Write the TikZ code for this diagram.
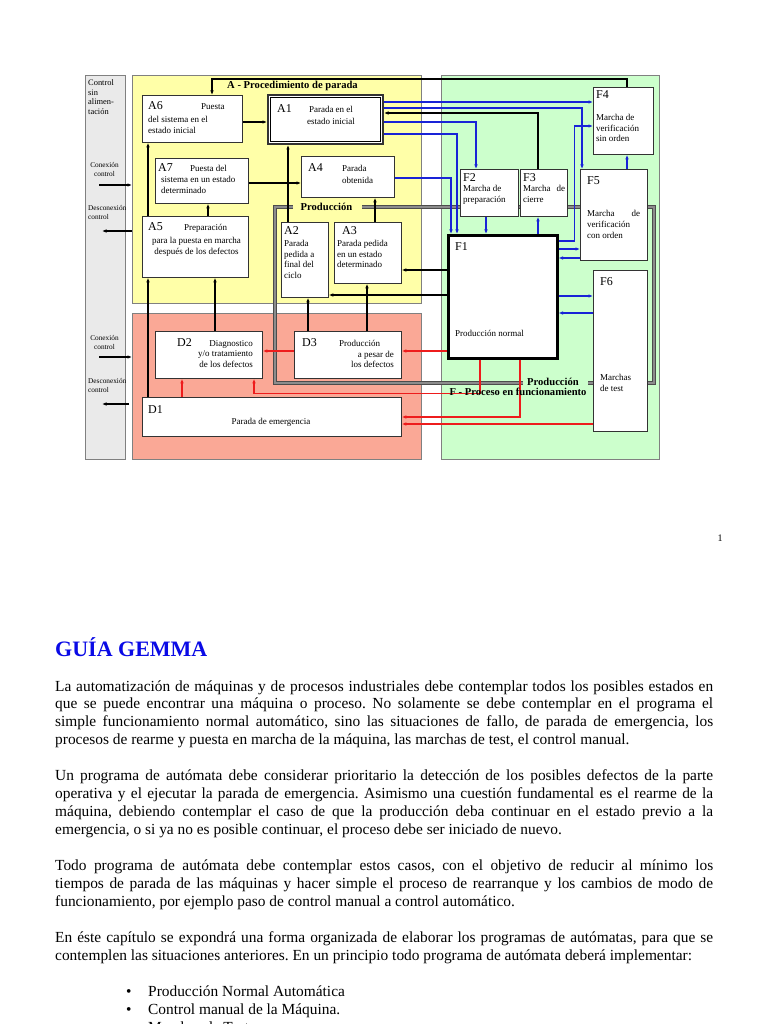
\documentclass[tikz,border=0pt]{standalone}
\usepackage{fontspec}
\setmainfont{Liberation Serif}
\usetikzlibrary{arrows.meta}
\definecolor{ybg}{RGB}{255,255,168}
\definecolor{rbg}{RGB}{250,168,150}
\definecolor{gbg}{RGB}{204,255,204}
\definecolor{pbg}{RGB}{234,234,234}
\definecolor{lblue}{RGB}{25,35,215}
\definecolor{lred}{RGB}{238,28,28}
\definecolor{tblue}{RGB}{10,10,230}
\frenchspacing
\newcommand{\pfont}{\fontsize{15.4}{17.95}\selectfont}
\newcommand{\mlines}[3]{{\fontsize{9}{#2}\selectfont\begin{tabular}[t]{@{}#1@{}}#3\end{tabular}}}
\begin{document}
\begin{tikzpicture}[x=1pt,y=-1pt,
 region/.style={draw=black!50, line width=0.7, inner sep=0, outer sep=0, anchor=north west},
 stbox/.style={draw=black!80, fill=white, line width=0.8, inner sep=0, outer sep=0.4, anchor=north west},
 lbl/.style={inner sep=0, anchor=base west, font=\fontsize{12}{14}\selectfont},
 txt/.style={inner sep=0, anchor=base west, font=\fontsize{9}{10.8}\selectfont},
 ptxt/.style={inner sep=0, anchor=base west, font=\fontsize{7.3}{9}\selectfont},
 ttl/.style={inner sep=0, font=\fontsize{10.6}{12}\selectfont\bfseries},
 blk/.style={draw=black, line width=1.1, -{Latex[length=4.5pt,width=3.6pt]}},
 blu/.style={draw=lblue, line width=1.3, -{Latex[length=4.5pt,width=3.6pt]}},
 rd/.style={draw=lred, line width=1.2, -{Latex[length=4.5pt,width=3.6pt]}},
 prod/.style={draw=black!70, double=black!45, double distance=1.6pt, line width=0.9},
 para/.style={inner sep=0, anchor=base west},
]
\useasboundingbox (0,0) rectangle (768,1024);
\fill[white] (0,0) rectangle (768,1024);

% regions
\node[region, fill=pbg, minimum width=40, minimum height=384] (P) at (85,75) {};
\node[region, fill=ybg, minimum width=289, minimum height=228] (RA) at (132,75) {};
\node[region, fill=rbg, minimum width=289, minimum height=146] (RD) at (132,313) {};
\node[region, fill=gbg, minimum width=218, minimum height=384] (RF) at (441,75) {};

% production loop
\draw[prod] (293,207) -- (275,207) -- (275,383) -- (523,383);
\draw[prod] (362,207) -- (654,207) -- (654,383) -- (588,383);

% boxes
\node[stbox, minimum width=100, minimum height=47] (A6) at (142,95) {};
\node[stbox, line width=2, outer sep=1, minimum width=115, minimum height=49] (A1) at (267,94) {};
\draw[black, line width=1.2] ([xshift=3.8pt,yshift=-3.8pt]A1.north west) rectangle ([xshift=-3.8pt,yshift=3.8pt]A1.south east);
\node[stbox, minimum width=93, minimum height=41] (A4) at (301,156) {};
\node[stbox, minimum width=93, minimum height=45] (A7) at (155,158) {};
\node[stbox, minimum width=106, minimum height=61] (A5) at (142,216) {};
\node[stbox, minimum width=47, minimum height=75] (A2) at (281,222) {};
\node[stbox, minimum width=67, minimum height=61] (A3) at (334,222) {};
\node[stbox, minimum width=107, minimum height=47] (D2) at (155,331) {};
\node[stbox, minimum width=107, minimum height=47] (D3) at (294,331) {};
\node[stbox, minimum width=259, minimum height=39] (D1) at (142,397) {};
\node[stbox, minimum width=60, minimum height=67] (F4) at (593,87) {};
\node[stbox, minimum width=58, minimum height=47] (F2) at (460,169) {};
\node[stbox, minimum width=47, minimum height=47] (F3) at (520,169) {};
\node[stbox, minimum width=67, minimum height=91] (F5) at (580,169) {};
\node[stbox, draw=black, line width=2.5, outer sep=1.25, minimum width=109, minimum height=123] (F1) at (447,234) {};
\node[stbox, minimum width=54, minimum height=161] (F6) at (593,270) {};

% black connectors
\draw[blk] (F4.north -| 627,0) -- ++(0,-8) -| (A6.north -| 212,0);
\draw[blk] (A6.east |- 0,122) -- (A1.west |- 0,122);
\draw[blk] (148,0 |- A5.north) -- (148,0 |- A6.south);
\draw[blk] (208,0 |- A5.north) -- (208,0 |- A7.south);
\draw[blk] (A7.east |- 0,183) -- (A4.west |- 0,183);
\draw[blk] (288,0 |- A2.north) -- (288,0 |- A1.south);
\draw[blk] (375,0 |- A3.north) -- (375,0 |- A4.south);
\draw[blk] (148,0 |- D1.north) -- (148,0 |- A5.south);
\draw[blk] (215,0 |- D2.north) -- (215,0 |- A5.south);
\draw[blk] (308,0 |- D3.north) -- (308,0 |- A2.south);
\draw[blk] (367,0 |- D3.north) -- (367,0 |- A3.south);
\draw[blk] (F1.west |- 0,270) -- (A3.east |- 0,270);
\draw[blk] (F1.west |- 0,295) -- (A2.east |- 0,295);
\draw[blk] (538,0 |- F3.north) |- (A1.east |- 0,113);

% blue connectors
\draw[blu] (A1.east |- 0,102) -- (F4.west |- 0,102);
\draw[blu] (A1.east |- 0,108) -| (582,0 |- F5.north);
\draw[blu] (A1.east |- 0,122) -| (476,0 |- F2.north);
\draw[blu] (A1.east |- 0,134) -| (457,0 |- F1.north);
\draw[blu] (A4.east |- 0,178) -| (451,0 |- F1.north);
\draw[blu] (486,0 |- F2.south) -- (486,0 |- F1.north);
\draw[blu] (538,0 |- F1.north) -- (538,0 |- F3.south);
\draw[blu] (F1.east |- 0,241) -- ++(16,0) |- (F4.west |- 0,126);
\draw[blu] (F1.east |- 0,249) -- (F5.west |- 0,249);
\draw[blu] (F5.west |- 0,258) -- (F1.east |- 0,258);
\draw[blu] (627,0 |- F5.north) -- (627,0 |- F4.south);
\draw[blu] (F1.east |- 0,296) -- (F6.west |- 0,296);
\draw[blu] (F6.west |- 0,313) -- (F1.east |- 0,313);

% red connectors
\draw[rd] (D3.west |- 0,351) -- (D2.east |- 0,351);
\draw[rd] (F1.west |- 0,351) -- (D3.east |- 0,351);
\draw[rd] (182,0 |- D1.north) -- (182,0 |- D2.south);
\draw[rd] (480,0 |- F1.south) -- ++(0,34) -| (254,0 |- D2.south);
\draw[rd] (520,0 |- F1.south) |- (D1.east |- 0,417);
\draw[rd] (F6.west |- 0,424) -- (D1.east |- 0,424);

% control panel arrows
\coordinate (c1) at (99,185);
\coordinate (c2) at (102,231);
\coordinate (c3) at (99,357);
\coordinate (c4) at (102,404);
\draw[blk] (c1) -- (RA.west |- c1);
\draw[blk] (RA.west |- c2) -- (c2);
\draw[blk] (c3) -- (RD.west |- c3);
\draw[blk] ([xshift=-3pt]RD.west |- c4) -- (c4);

% panel texts
\node[inner sep=0, anchor=base west, font=\fontsize{8.4}{9.5}\selectfont] (Pt) at (88,86) {\begin{tabular}[t]{@{}l@{}}Control\\sin\\alimen-\\tación\end{tabular}};
\node[ptxt, anchor=base] (Pc1) at (104.5,168) {\begin{tabular}[t]{@{}c@{}}Conexión\\control\end{tabular}};
\node[ptxt] (Pd1) at (88,211) {\begin{tabular}[t]{@{}l@{}}Desconexión\\control\end{tabular}};
\node[ptxt, anchor=base] (Pc2) at (104.5,340) {\begin{tabular}[t]{@{}c@{}}Conexión\\control\end{tabular}};
\node[ptxt] (Pd2) at (88,383) {\begin{tabular}[t]{@{}l@{}}Desconexión\\control\end{tabular}};

% titles
\node[ttl] (TA) at (292.5,86) {A - Procedimiento de parada};
\node[ttl] (TP1) at (326.5,207) {Producción};
\node[ttl] (TP2) at (553,382) {Producción};
\node[ttl] (TF) at (518,392) {F - Proceso en funcionamiento};

% box texts
\node[lbl] (A6l) at (148,110) {A6};
\node[txt] (A6a) at (201,110) {Puesta};
\node[txt] (A6b) at (148,123) {\mlines{l}{11}{del sistema en el\\estado inicial}};
\node[lbl] (A1l) at (277,113) {A1};
\node[txt, anchor=base] (A1t) at (331,113) {\mlines{c}{12}{Parada en el\\estado inicial}};
\node[lbl] (A4l) at (308,172) {A4};
\node[txt] (A4t) at (342,172) {\mlines{l}{11.5}{Parada\\obtenida}};
\node[lbl] (A7l) at (158,172) {A7};
\node[txt] (A7a) at (190,172) {Puesta del};
\node[txt] (A7b) at (161,183) {\mlines{l}{10.6}{sistema en un estado\\determinado}};
\node[lbl] (A5l) at (148,231) {A5};
\node[txt] (A5a) at (184,231) {Preparación};
\node[txt, anchor=base] (A5b) at (196.5,243.5) {\mlines{c}{10.6}{para la puesta en marcha\\después de los defectos}};
\node[lbl] (A2l) at (284,235) {A2};
\node[txt] (A2t) at (284,246.5) {\mlines{l}{10.6}{Parada\\pedida a\\final del\\ciclo}};
\node[lbl] (A3l) at (342,235) {A3};
\node[txt] (A3t) at (337,246.5) {\mlines{l}{10.6}{Parada pedida\\en un estado\\determinado}};
\node[lbl] (D2l) at (177,346) {D2};
\node[txt, anchor=base east] (D2t) at (253,346.5) {\mlines{r}{10.4}{Diagnostico\\y/o tratamiento\\de los defectos}};
\node[lbl] (D3l) at (302,346) {D3};
\node[txt] (D3a) at (339,346.5) {Producción};
\node[txt, anchor=base east] (D3b) at (394,357) {\mlines{r}{10.5}{a pesar de\\los defectos}};
\node[lbl] (D1l) at (148,413) {D1};
\node[txt, anchor=base] (D1t) at (271,424) {Parada de emergencia};
\node[lbl] (F4l) at (596,99) {F4};
\node[txt] (F4t) at (596,121) {\mlines{l}{10.5}{Marcha de\\verificación\\sin orden}};
\node[lbl] (F2l) at (463,182) {F2};
\node[txt] (F2t) at (463,192) {\mlines{l}{10.2}{Marcha de\\preparación}};
\node[lbl] (F3l) at (523,182) {F3};
\node[txt] (F3t) at (523,192) {\mlines{l}{10.2}{\makebox[42pt][s]{Marcha de}\\cierre}};
\node[lbl] (F5l) at (587,185) {F5};
\node[txt] (F5t) at (587,217) {\mlines{l}{10.5}{\makebox[53pt][s]{Marcha de}\\verificación\\con orden}};
\node[lbl] (F1l) at (455,250) {F1};
\node[txt] (F1t) at (455,336) {Producción normal};
\node[lbl] (F6l) at (600,285) {F6};
\node[txt] (F6t) at (600,380) {\mlines{l}{11}{Marchas\\de test}};

% page number
\node[inner sep=0, anchor=base, font=\fontsize{10}{12}\selectfont] (pg) at (720,541) {1};

% document text
\node[inner sep=0, anchor=base west, text=tblue, font=\fontsize{22}{26}\selectfont\bfseries] (title) at (55,656) {GUÍA GEMMA};

\node[para] (p1) at (55,691) {\parbox[t]{658pt}{\pfont
\makebox[658pt][s]{La automatización de máquinas y de procesos industriales debe contemplar todos los posibles estados en}\\
\makebox[658pt][s]{que se puede encontrar una máquina o proceso. No solamente se debe contemplar en el programa el}\\
\makebox[658pt][s]{simple funcionamiento normal automático, sino las situaciones de fallo, de parada de emergencia, los}\\
procesos de rearme y puesta en marcha de la máquina, las marchas de test, el control manual.}};

\node[para] (p2) at (55,780.75) {\parbox[t]{658pt}{\pfont
\makebox[658pt][s]{Un programa de autómata debe considerar prioritario la detección de los posibles defectos de la parte}\\
\makebox[658pt][s]{operativa y el ejecutar la parada de emergencia. Asimismo una cuestión fundamental es el rearme de la}\\
\makebox[658pt][s]{máquina, debiendo contemplar el caso de que la producción deba continuar en el estado previo a la}\\
emergencia, o si ya no es posible continuar, el proceso debe ser iniciado de nuevo.}};

\node[para] (p3) at (55,870.5) {\parbox[t]{658pt}{\pfont
\makebox[658pt][s]{Todo programa de autómata debe contemplar estos casos, con el objetivo de reducir al mínimo los}\\
\makebox[658pt][s]{tiempos de parada de las máquinas y hacer simple el proceso de rearranque y los cambios de modo de}\\
funcionamiento, por ejemplo paso de control manual a control automático.}};

\node[para] (p4) at (55,942.3) {\parbox[t]{658pt}{\pfont
\makebox[658pt][s]{En éste capítulo se expondrá una forma organizada de elaborar los programas de autómatas, para que se}\\
contemplen las situaciones anteriores. En un principio todo programa de autómata deberá implementar:}};

\node[para] (b1) at (126,996.2) {\pfont •};
\node[para] (b1t) at (148,996.2) {\pfont Producción Normal Automática};
\node[para] (b2) at (126,1014.1) {\pfont •};
\node[para] (b2t) at (148,1014.1) {\pfont Control manual de la Máquina.};
\node[para] (b3) at (126,1032.1) {\pfont •};
\node[para] (b3t) at (148,1032.1) {\pfont Marchas de Test};
\end{tikzpicture}
\end{document}
